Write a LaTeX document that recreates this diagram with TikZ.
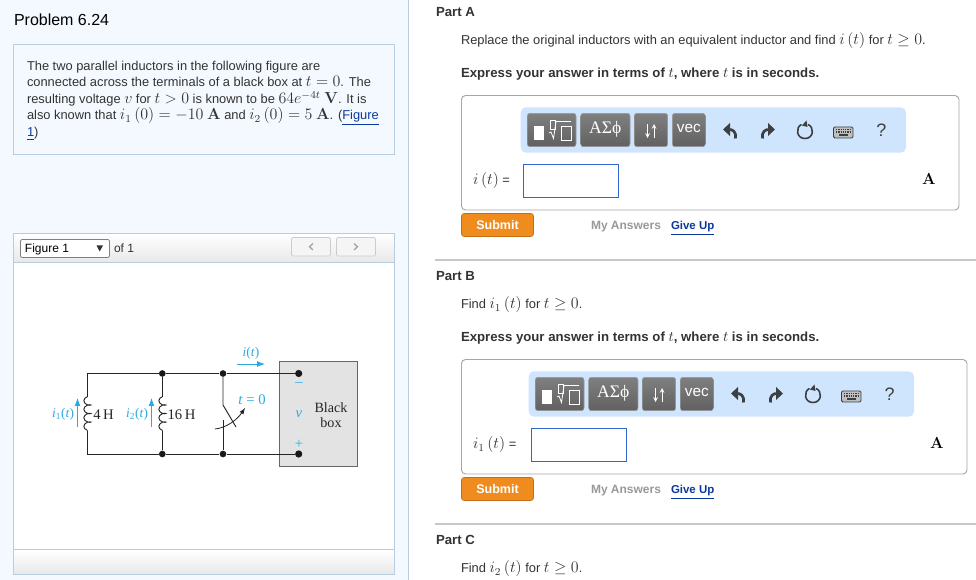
\documentclass[tikz,border=0pt]{standalone}
\usepackage[no-math]{fontspec}
\setmainfont{Liberation Sans}
\newfontfamily\serfont{Liberation Serif}
\DeclareMathSizes{9.65}{12}{8.5}{6}
\DeclareMathSizes{9.9}{11}{8}{6}
\usetikzlibrary{decorations.pathmorphing,arrows.meta}
\definecolor{panelblue}{HTML}{F4F9FF}
\definecolor{panelline}{HTML}{B9CDE0}
\definecolor{bodytext}{HTML}{333333}
\definecolor{linkblue}{HTML}{0B3A9C}
\definecolor{figcyan}{HTML}{29ABE2}
\definecolor{barblue}{HTML}{CFE4FD}
\definecolor{inputblue}{HTML}{3366CC}
\definecolor{submitorange}{HTML}{F08C1E}
\definecolor{iconink}{HTML}{3C4043}
\newcommand{\pxsmall}{\fontsize{9}{11}\selectfont}
\newcommand{\pxbody}{\fontsize{9.65}{11}\selectfont}
\newcommand{\pxhead}{\fontsize{9.9}{11}\selectfont}
\newcommand{\pxbig}{\fontsize{12}{14}\selectfont}
\tikzset{
  txt/.style={anchor=base west,inner sep=0pt,outer sep=0pt,text=bodytext,font=\pxbody},
  boldtxt/.style={txt,font=\pxhead\bfseries},
  figtxt/.style={inner sep=0pt,text=black!85,font=\serfont\fontsize{11}{13}\selectfont},
  figblue/.style={figtxt,text=figcyan},
  wire/.style={draw=black!85,line width=.7pt},
  junction/.style={circle,fill=black!90,inner sep=0pt,minimum size=5pt},
  bluearrow/.style={figcyan,line width=.7pt,-{Latex[length=6pt,width=4.5pt]}},
  coilwire/.style={wire,decorate,decoration={coil,aspect=.55,segment length=6.4pt,amplitude=2.6pt,mirror}},
  toolbtn/.style={draw=black!40,line width=.4pt,rounded corners=2pt,top color=black!50,bottom color=black!62},
}
% one answer block: name, x offset of the toolbar, y offset, label of the input
\newcommand{\answerpart}[4]{
  \begin{scope}[shift={(0,#3)}]
    \draw[black!35,line width=.7pt,rounded corners=3pt,fill=white] (461.5,95.5) rectangle (959+#2,210);
    \node[txt] (#1lab) at (473,185) {#4};
    \draw[fill=submitorange,draw=submitorange!80!black,line width=.5pt,rounded corners=2pt] (461.5,213.5) rectangle (533.5,236.5);
    \node[txt,anchor=base,text=white,font=\fontsize{9.4}{11}\selectfont\bfseries] (#1sub) at (497.5,230) {Submit};
    \node[txt,text=black!40,font=\pxsmall\bfseries] (#1my) at (591,230) {My Answers};
    \node[txt,text=linkblue,font=\fontsize{8.6}{11}\selectfont\bfseries] (#1give) at (671,230) {\underline{Give Up}};
    \begin{scope}[shift={(#2,0)}]
      \draw[fill=barblue,draw=none,rounded corners=4pt] (520.7,107.3) rectangle (906,152.7);
      \draw[toolbtn] (527.3,113.3) rectangle (576,146.7);
      \draw[toolbtn] (580.7,113.3) rectangle (630,146.7);
      \draw[toolbtn] (634.3,113.3) rectangle (667.7,146.7);
      \draw[toolbtn] (672.3,113.3) rectangle (705.3,146.7);
      % radical button
      \fill[white] (534.3,126) rectangle (544.3,140);
      \draw[white,line width=.6pt] (549,133) -- (551,132) -- (553.5,138.5) -- (556,121.5) -- (571,121.5);
      \draw[white,line width=.6pt] (561.7,126) rectangle (571,140);
      \draw[white,line width=.6pt] (550.5,120) rectangle (555.5,129);
      \node[inner sep=0pt,text=white,font=\serfont\fontsize{13.2}{15}\selectfont] (#1sym) at (605.3,129.5) {ΑΣϕ};
      \draw[white,line width=.6pt,->,>=stealth] (647.5,124) -- (647.5,138);
      \draw[white,line width=.6pt,->,>=stealth] (654,138) -- (654,124);
      \node[inner sep=0pt,text=white,font=\fontsize{11.5}{13}\selectfont] (#1vec) at (688.8,128.5) {vec};
      % undo, redo, reset, keyboard, help
      \fill[iconink] (723,129.5) -- (730,123) -- (730,136) -- cycle;
      \draw[iconink,line width=2pt] (728,129.5) .. controls (733,129) and (736.5,132) .. (735.5,138.5);
      \fill[iconink] (775,129.5) -- (768,123) -- (768,136) -- cycle;
      \draw[iconink,line width=2pt] (770,129.5) .. controls (765,129) and (761.5,132) .. (762.5,138.5);
      \draw[iconink,line width=1.2pt] (801.5,124.5) .. controls (795.5,127) and (796,138.5) .. (805,138.5) .. controls (814,138.5) and (814.5,127) .. (808,124.5);
      \fill[iconink] (806.5,120.5) -- (802,125.5) -- (807.5,127) -- cycle;
      \draw[iconink,line width=.7pt,fill=black!25,rounded corners=1pt] (833.5,127) rectangle (853,138);
      \draw[iconink,line width=.9pt,dash pattern=on 1pt off .7pt] (836,129.5) -- (851,129.5);
      \draw[iconink,line width=.9pt,dash pattern=on 1pt off .7pt] (836,132) -- (851,132);
      \draw[iconink,line width=.9pt] (839,135) -- (848,135);
      \node[inner sep=0pt,text=iconink,font=\fontsize{13.5}{15}\selectfont] (#1help) at (881.5,130) {?};
      % input field
      \draw[inputblue,line width=.7pt,fill=white] (523,164.3) rectangle (618,197.7);
      \node[inner sep=0pt,anchor=base,text=black] (#1unit) at (929,185) {\pxbody$\mathbf{A}$};
    \end{scope}
  \end{scope}
}
\begin{document}
\begin{tikzpicture}[x=.75pt,y=-.75pt,>=latex]
\useasboundingbox (0,0) rectangle (976,580);
\fill[white] (0,0) rectangle (976,580);
\fill[panelblue] (0,0) rectangle (408,580);
\draw[panelline,line width=.7pt] (408.5,0) -- (408.5,580);
\node[txt,text=black,font=\pxbig] (title) at (14,26) {Problem 6.24};
% problem statement
\draw[panelline,line width=.7pt] (13.5,44.5) rectangle (394.5,154.5);
\node[txt] (line1) at (27,71) {The two parallel inductors in the following figure are};
\node[txt] (line2) at (27,87) {connected across the terminals of a black box at $t=0$. The};
\node[txt] (line3) at (27,104) {resulting voltage $v$ for $t>0$ is known to be $64e^{-4t}\ \mathbf{V}$. It is};
\node[txt] (line4) at (27,120) {also known that $i_1\,(0)=-10\ \mathbf{A}$ and $i_2\,(0)=5\ \mathbf{A}$. (\textcolor{linkblue}{\underline{Figure}}};
\node[txt] (line5) at (27,137) {\textcolor{linkblue}{\underline{1}})};
% figure panel
\draw[panelline,line width=.7pt,fill=white] (13.5,233.5) rectangle (394.5,574.5);
\draw[panelline,line width=.7pt,top color=white,bottom color=black!9] (13.5,233.5) rectangle (394.5,262.5);
\draw[panelline,line width=.7pt,top color=white,bottom color=black!9] (13.5,549.5) rectangle (394.5,574.5);
\draw[black!50,line width=.6pt,fill=white,rounded corners=1pt] (20.5,239.5) rectangle (109.5,257.5);
\node[txt,text=black,font=\pxsmall] (figsel) at (25,253) {Figure 1};
\fill[black!80] (96.5,245.5) -- (103,245.5) -- (99.7,251.5) -- cycle;
\node[txt,font=\pxsmall] (figof) at (114,253) {of 1};
\draw[black!20,line width=.6pt,rounded corners=1pt,fill=black!4] (291.5,237.5) rectangle (330.5,256);
\draw[black!20,line width=.6pt,rounded corners=1pt,fill=black!4] (336.5,237.5) rectangle (375.5,256);
\draw[black!35,line width=1pt] (313,243.5) -- (309.5,246.7) -- (313,250);
\draw[black!35,line width=1pt] (354,243.5) -- (357.5,246.7) -- (354,250);
% circuit
\draw[black!60,line width=.6pt,fill=black!11] (279.3,361.7) rectangle (357.3,466);
\coordinate (tl) at (87.3,373.5);
\coordinate (bl) at (87.3,454);
\node[junction] (t2) at (162.3,373.5) {};
\node[junction] (b2) at (162.3,454) {};
\node[junction] (t3) at (223,373.5) {};
\node[junction] (b3) at (223,454) {};
\node[junction,minimum size=5.4pt] (t4) at (298.7,373.5) {};
\node[junction,minimum size=5.4pt] (b4) at (298.7,454) {};
\coordinate (l1a) at (87.3,396.7);
\coordinate (l1b) at (87.3,430.7);
\coordinate (l2a) at (162.3,396.7);
\coordinate (l2b) at (162.3,430.7);
\coordinate (swa) at (223,405);
\coordinate (swb) at (236,427);
\coordinate (swc) at (223,420);
\draw[wire] (t4) -- (t3) -- (t2) -- (tl) -- (l1a);
\draw[wire] (b4) -- (b3) -- (b2) -- (bl) -- (l1b);
\draw[wire] (t2) -- (l2a);
\draw[wire] (b2) -- (l2b);
\draw[coilwire] (l1a) -- (l1b);
\draw[coilwire] (l2a) -- (l2b);
\draw[wire] (t3) -- (swa) -- (swb);
\draw[wire] (swc) -- (b3);
\draw[black!85,line width=.6pt,->] (215,429) .. controls (226,428) and (237,420) .. (245,408);
\node[figblue,font=\serfont\fontsize{10}{12}\selectfont] (it) at (251,353) {\textit{i}(\textit{t})};
\coordinate (ita) at (237,364);
\coordinate (itb) at (265,364);
\draw[bluearrow] (ita) -- (itb);
\node[figblue,font=\serfont\fontsize{10}{12}\selectfont] (i1) at (63,414) {\textit{i}\textsubscript{1}(\textit{t})};
\coordinate (i1a) at (77.5,427);
\coordinate (i1b) at (77.5,398);
\draw[bluearrow] (i1a) -- (i1b);
\node[figblue,font=\serfont\fontsize{10}{12}\selectfont] (i2) at (137,414) {\textit{i}\textsubscript{2}(\textit{t})};
\coordinate (i2a) at (151.5,427);
\coordinate (i2b) at (151.5,398);
\draw[bluearrow] (i2a) -- (i2b);
\node[figtxt] (val1) at (103.5,414.5) {4\,H};
\node[figtxt] (val2) at (181.5,414.5) {16\,H};
\node[figblue] (sw) at (252,400) {\textit{t} = 0};
\node[figblue] (minus) at (299,385) {\textendash};
\node[figblue] (volt) at (299,414.5) {\textit{v}};
\node[figblue] (plus) at (299,444) {+};
\node[figtxt,align=center,font=\serfont\fontsize{10.6}{11.2}\selectfont] (bb) at (331,415) {Black\\box};
% part A
\node[boldtxt] (parta) at (436,17) {Part A};
\node[txt] (askA) at (461,45) {Replace the original inductors with an equivalent inductor and find $i\,(t)$ for $t\geq 0$.};
\node[boldtxt] (expA) at (461,78) {Express your answer in terms of $t$, where $t$ is in seconds.};
\answerpart{A}{0}{0}{$i\,(t)$ =}
\draw[black!22,line width=1.4pt] (435,260) -- (976,260);
% part B
\node[boldtxt] (partb) at (436,281) {Part B};
\node[txt] (askB) at (461,309) {Find $i_1\,(t)$ for $t\geq 0$.};
\node[boldtxt] (expB) at (461,342) {Express your answer in terms of $t$, where $t$ is in seconds.};
\answerpart{B}{8}{264}{$i_1\,(t)$ =}
\draw[black!22,line width=1.4pt] (435,524) -- (976,524);
% part C
\node[boldtxt] (partc) at (436,545) {Part C};
\node[txt] (askC) at (461,573) {Find $i_2\,(t)$ for $t\geq 0$.};
\end{tikzpicture}
\end{document}
